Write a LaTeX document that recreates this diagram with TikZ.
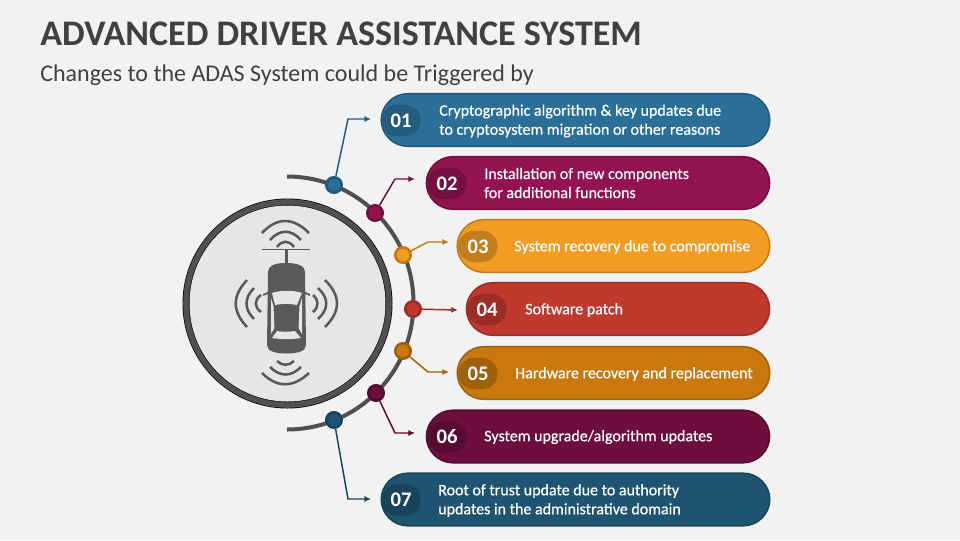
\documentclass[tikz,border=0pt]{standalone}
\usepackage{fontspec}
\setmainfont{Carlito}
\newfontfamily\pillfont[FakeBold=0.5]{Carlito}
\usetikzlibrary{arrows.meta}
\definecolor{pageback}{HTML}{F2F2F2}
\definecolor{inkdark}{HTML}{404040}
\definecolor{ringgray}{HTML}{505050}
\definecolor{cargray}{HTML}{595959}
\definecolor{facegray}{HTML}{E6E6E6}
\definecolor{blueA}{HTML}{2A6F97}
\definecolor{blueAd}{HTML}{1F5A7E}
\definecolor{blueAb}{HTML}{235C7E}
\definecolor{wineA}{HTML}{931250}
\definecolor{wineAd}{HTML}{720E3E}
\definecolor{wineAb}{HTML}{760F41}
\definecolor{amberA}{HTML}{F39C24}
\definecolor{amberAd}{HTML}{C07A10}
\definecolor{amberAb}{HTML}{C37D1D}
\definecolor{redA}{HTML}{C0392F}
\definecolor{redAd}{HTML}{9A2E26}
\definecolor{redAb}{HTML}{9A2E26}
\definecolor{ochreA}{HTML}{C8780C}
\definecolor{ochreAd}{HTML}{A0600A}
\definecolor{ochreAb}{HTML}{A0600A}
\definecolor{plumA}{HTML}{6D0E3E}
\definecolor{plumAd}{HTML}{560B31}
\definecolor{plumAb}{HTML}{570B32}
\definecolor{navyA}{HTML}{1F5470}
\definecolor{navyAd}{HTML}{18435A}
\definecolor{navyAb}{HTML}{19435A}
\tikzset{
	pill/.style={draw=#1d, fill=#1, line width=1.1pt, rounded corners=20pt, minimum height=39.5pt, inner sep=0pt},
	badge/.style={fill=#1b, rounded corners=11.7pt, minimum width=29.5pt, minimum height=23.5pt, inner sep=0pt, text=white, font=\fontsize{15.5}{17}\selectfont\bfseries},
	pilltext/.style={anchor=west, align=left, inner sep=0pt, text=white, font=\fontsize{12}{14.25}\pillfont\selectfont},
	dot/.style={circle, draw=#1d, fill=#1, line width=2pt, minimum size=11.5pt, inner sep=0pt},
	link/.style={draw=#1d, line width=1.1pt, -{Latex[length=5pt,width=4.6pt]}},
	wave/.style={draw=cargray, line width=1.9pt},
}
\begin{document}
\begin{tikzpicture}[x=0.75pt, y=-0.75pt]
	\fill[pageback] (0, 0) rectangle (960, 540);

	\node[anchor=west, inner sep=0pt, text=inkdark, font=\fontsize{27}{32}\selectfont\bfseries] (title) at (40, 33.5) {ADVANCED DRIVER ASSISTANCE SYSTEM};
	\node[anchor=west, inner sep=0pt, text=inkdark, font=\fontsize{18}{20}\selectfont] (subtitle) at (40, 75) {Changes to the ADAS System could be Triggered by};

	% big dial
	\fill[black] (287.5, 303.5) circle (105);
	\fill[ringgray] (287.5, 303.5) circle (104.3);
	\fill[black] (287.5, 303.5) circle (98.6);
	\fill[facegray] (287.5, 303.5) circle (98);

	% sensor waves
	\draw[wave] (262, 233) .. controls (277, 217) and (293, 217) .. (309, 233);
	\draw[wave] (270, 240) .. controls (280, 229) and (291, 229) .. (301, 240);
	\draw[wave] (277, 247) .. controls (282, 240) and (289, 240) .. (294, 247);
	\draw[wave] (277, 361) .. controls (282, 366) and (289, 366) .. (294, 361);
	\draw[wave] (270, 367) .. controls (280, 377) and (291, 377) .. (301, 367);
	\draw[wave] (262, 373) .. controls (277, 388) and (293, 388) .. (309, 373);
	\draw[wave] (247, 280) .. controls (232, 296) and (232, 311) .. (247, 327);
	\draw[wave] (254, 288) .. controls (244, 298) and (244, 309) .. (254, 319);
	\draw[wave] (261, 295) .. controls (254, 300) and (254, 307) .. (261, 312);
	\draw[wave] (313, 295) .. controls (319, 300) and (319, 307) .. (313, 312);
	\draw[wave] (318, 288) .. controls (329, 298) and (329, 309) .. (318, 319);
	\draw[wave] (325, 280) .. controls (341, 296) and (341, 311) .. (325, 327);

	% car
	\draw[cargray, line width=0.4pt] (262, 249) -- (310, 249);
	\fill[cargray] (284.5, 249) rectangle (288, 264);
	\fill[cargray] (268, 272) .. controls (268, 266) and (274, 263) .. (286, 263) .. controls (298, 263) and (305, 266) .. (305, 272) -- (306, 345) .. controls (306, 351) and (298, 353.5) .. (286, 353.5) .. controls (275, 353.5) and (267, 351) .. (267, 345) -- cycle;
	\fill[facegray] (272, 293) .. controls (280, 290) and (294, 290) .. (302, 293) -- (297, 305) .. controls (290, 303.5) and (282, 303.5) .. (275, 305) -- cycle;
	\fill[facegray] (277, 331) .. controls (283, 332) and (289, 332) .. (295, 331) -- (301, 338) .. controls (291, 339.5) and (282, 339.5) .. (272, 338) -- cycle;
	\fill[facegray] (271, 298) -- (273.5, 306) -- (274.5, 328) -- (271, 334) -- cycle;
	\fill[facegray] (302, 298) -- (299.5, 306) -- (298.5, 328) -- (302, 334) -- cycle;
	\draw[cargray, line width=1.4pt] (263, 295) -- (269, 292.5);
	\draw[cargray, line width=1.4pt] (310, 295) -- (304, 292.5);

	% outer arc
	\draw[ringgray, line width=3pt] (287, 176.5) arc (-90:90:126.5);

	% pills
	\node[pill=blueA, minimum width=291.5pt] (pill1) at (575.5, 120) {};
	\node[pill=wineA, minimum width=257.5pt] (pill2) at (598, 183) {};
	\node[pill=amberA, minimum width=234.5pt] (pill3) at (613.5, 246) {};
	\node[pill=redA, minimum width=227.5pt] (pill4) at (618, 309) {};
	\node[pill=ochreA, minimum width=234.5pt] (pill5) at (613.5, 373) {};
	\node[pill=plumA, minimum width=257.5pt] (pill6) at (598, 436.5) {};
	\node[pill=navyA, minimum width=291.5pt] (pill7) at (575.5, 499.5) {};

	\node[badge=blueA] (num1) at (401, 120.5) {01};
	\node[badge=wineA] (num2) at (447, 183.5) {02};
	\node[badge=amberA] (num3) at (478, 246.5) {03};
	\node[badge=redA] (num4) at (487, 309.5) {04};
	\node[badge=ochreA] (num5) at (478, 373.5) {05};
	\node[badge=plumA] (num6) at (447, 437) {06};
	\node[badge=navyA] (num7) at (401, 500) {07};

	\node[pilltext] (txt1) at (439, 121) {Cryptographic algorithm \& key updates due\\to cryptosystem migration or other reasons};
	\node[pilltext] (txt2) at (484, 183) {Installation of new components\\for additional functions};
	\node[pilltext] (txt3) at (514, 247) {System recovery due to compromise};
	\node[pilltext] (txt4) at (525, 310) {Software patch};
	\node[pilltext] (txt5) at (515, 374) {Hardware recovery and replacement};
	\node[pilltext] (txt6) at (484, 437) {System upgrade/algorithm updates};
	\node[pilltext] (txt7) at (438, 500.5) {Root of trust update due to authority\\updates in the administrative domain};

	% dots on the arc
	\node[dot=blueA] (dot1) at (334, 185) {};
	\node[dot=wineA] (dot2) at (375, 213) {};
	\node[dot=amberA] (dot3) at (403, 255) {};
	\node[dot=redA] (dot4) at (413, 309) {};
	\node[dot=ochreA] (dot5) at (403, 351) {};
	\node[dot=plumA] (dot6) at (376, 393) {};
	\node[dot=navyA] (dot7) at (334, 420) {};

	\coordinate (bend1) at (348, 119);
	\coordinate (bend2) at (395, 179);
	\coordinate (bend3) at (428, 242);
	\coordinate (bend5) at (428, 372);
	\coordinate (bend6) at (395, 433);
	\coordinate (bend7) at (348, 499);
	\coordinate (tip1) at (371, 119);
	\coordinate (tip2) at (415, 179);
	\coordinate (tip3) at (449, 242);
	\coordinate (tip4) at (458, 310);
	\coordinate (tip5) at (449, 372);
	\coordinate (tip6) at (415, 433);
	\coordinate (tip7) at (371, 499);

	\draw[link=blueA] (dot1) -- (bend1) -- (tip1);
	\draw[link=wineA] (dot2) -- (bend2) -- (tip2);
	\draw[link=amberA] (dot3) -- (bend3) -- (tip3);
	\draw[link=redA] (dot4) -- (tip4);
	\draw[link=ochreA] (dot5) -- (bend5) -- (tip5);
	\draw[link=plumA] (dot6) -- (bend6) -- (tip6);
	\draw[link=navyA] (dot7) -- (bend7) -- (tip7);
\end{tikzpicture}
\end{document}
